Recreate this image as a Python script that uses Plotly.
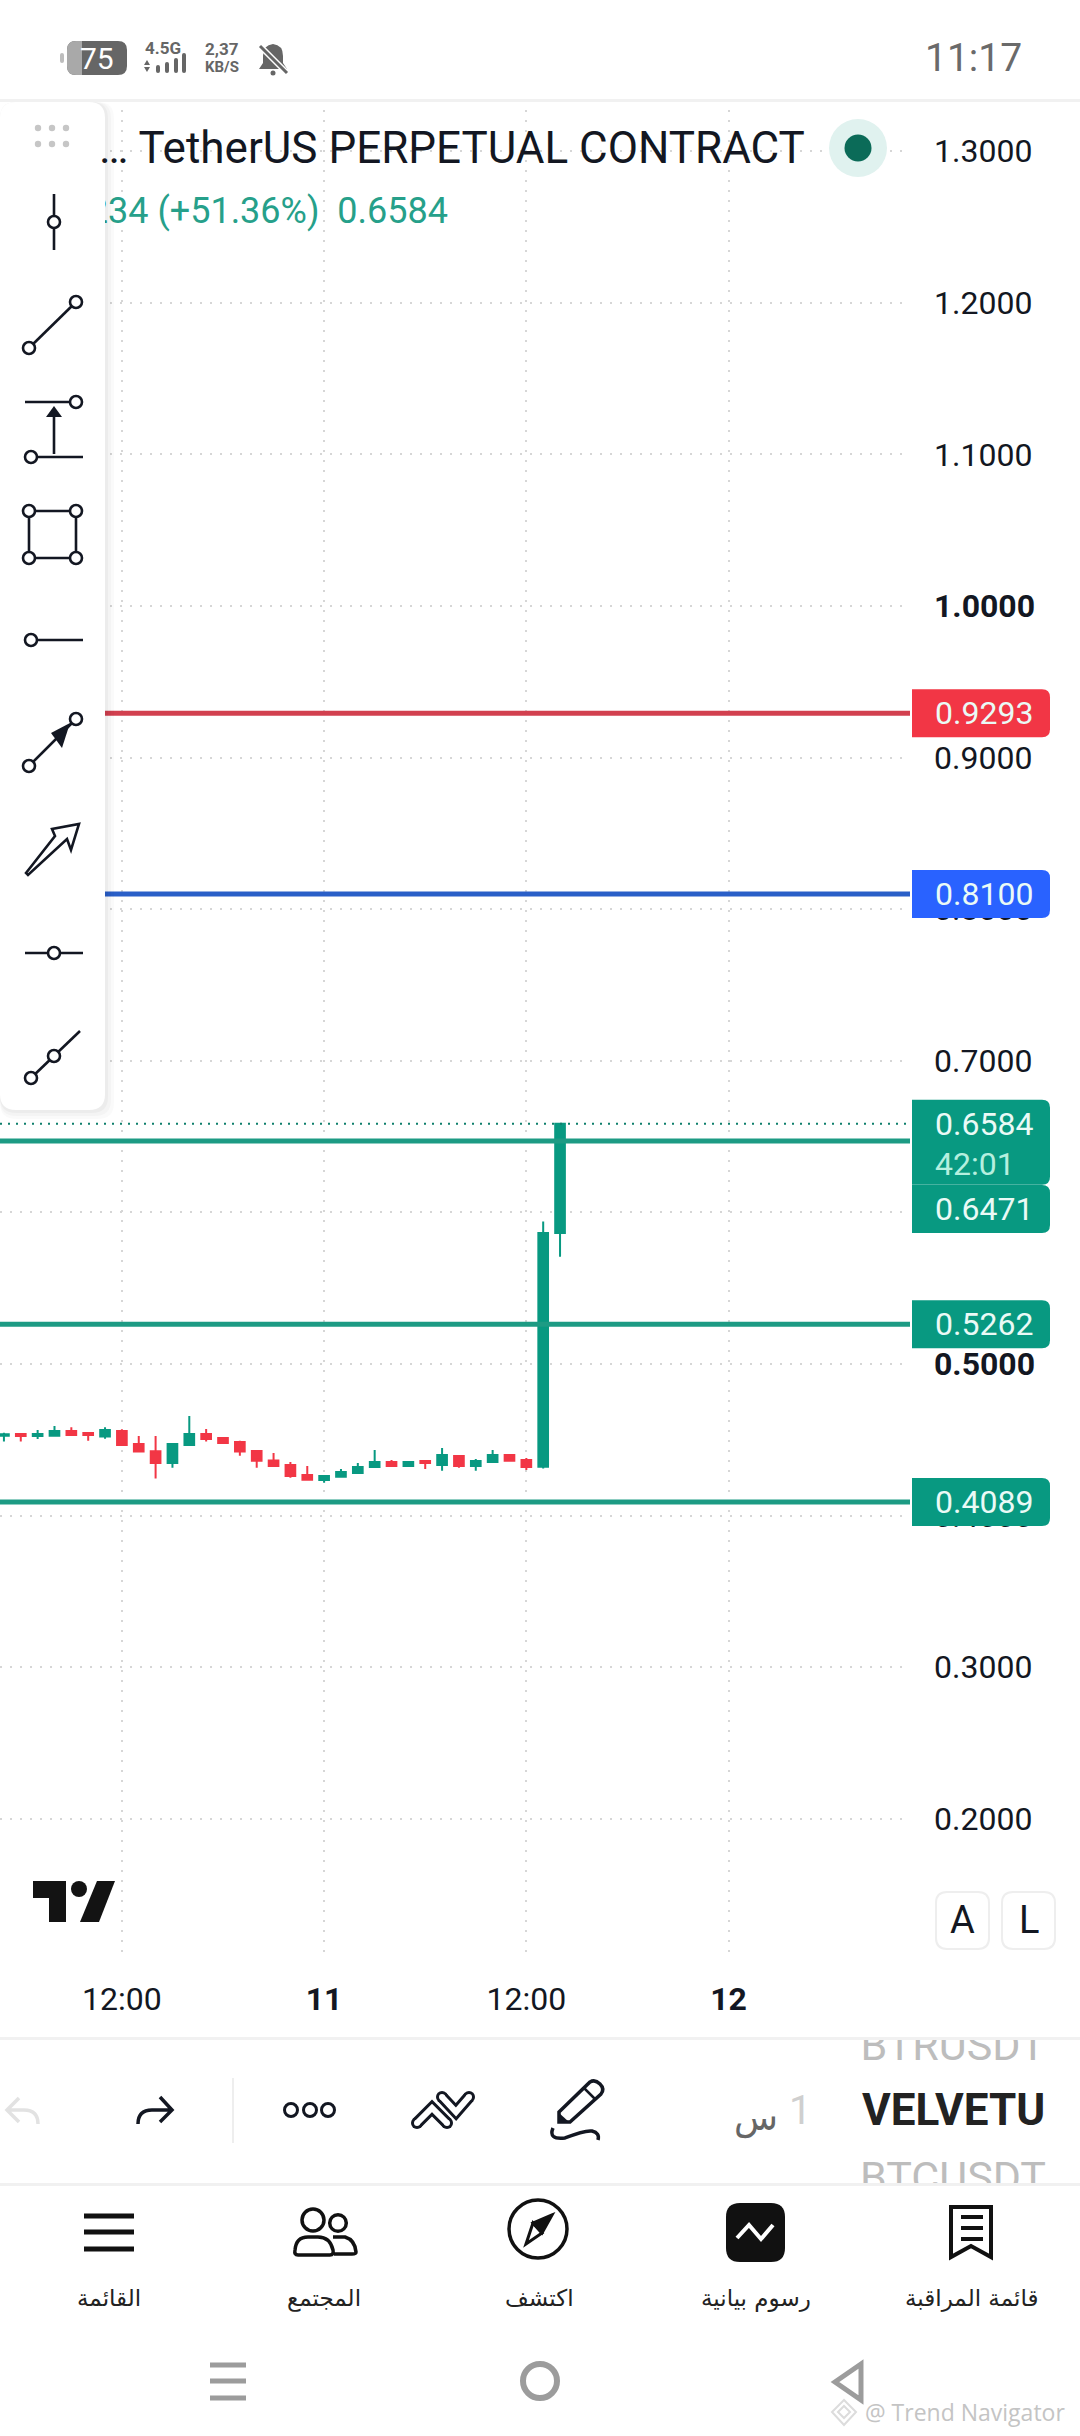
import pandas as pd
import plotly.graph_objects as go

# ---------- data ----------
times = pd.date_range("2025-06-10 05:00", periods=34, freq="h")
opens = [.4527,.4538,.4525,.4527,.4558,.4545,.4521,.4558,.4472,.4424,.4347,.4466,.4538,.4512,.4485,.4426,.4364,.4334,.4268,
         .4235,.4257,.4281,.4320,.4354,.4327,.4360,.4334,.4393,.4327,.4354,.4400,.4367,.4323,.5864]
highs = [.4547,.4538,.4565,.4591,.4582,.4545,.4582,.4569,.4525,.4525,.4479,.4657,.4571,.4516,.4494,.4426,.4413,.4354,.4327,
         .4268,.4307,.4347,.4433,.4367,.4354,.4367,.4446,.4400,.4373,.4433,.4400,.4380,.5940,.6584]
lows = [.4488,.4488,.4505,.4527,.4532,.4494,.4507,.4466,.4422,.4244,.4316,.4466,.4488,.4474,.4395,.4316,.4323,.4250,.4237,
        .4217,.4257,.4277,.4320,.4320,.4323,.4307,.4296,.4316,.4296,.4354,.4356,.4301,.4310,.5708]
closes = [.4536,.4525,.4538,.4558,.4532,.4532,.4565,.4466,.4422,.4347,.4472,.4538,.4505,.4479,.4422,.4362,.4327,.4261,.4237,
          .4261,.4288,.4320,.4354,.4327,.4354,.4347,.4400,.4327,.4360,.4400,.4362,.4320,.5864,.6584]

y_ticks = [1.3, 1.2, 1.1, 1.0, 0.9, 0.8, 0.7, 0.6, 0.5, 0.4, 0.3, 0.2]
y_labels = ["1.3000", "1.2000", "1.1000", "<b>1.0000</b>", "0.9000", "0.8000", "0.7000", "0.6000",
            "<b>0.5000</b>", "0.4000", "0.3000", "0.2000"]
x_ticks = ["2025-06-10 12:00", "2025-06-11 00:00", "2025-06-11 12:00", "2025-06-12 00:00"]
x_labels = ["12:00", "<b>11</b>", "12:00", "<b>12</b>"]

level_red = 0.9293
level_blue = 0.8100
levels_green = [0.6471, 0.5262, 0.4089]
last_price = 0.6584

W, H = 1080, 2436
GREEN, RED, LINE_G = "#089981", "#f23645", "#1d9b84"
INK = "#131722"
FONT = "Roboto"

S, A = [], []
def px(x): return x / W
def py(y): return 1 - y / H

def P(s):
    out, isx = [], True
    for t in s.split():
        if t.isalpha():
            out.append(t); isx = True
        else:
            out.append(f"{px(float(t)):.6f}" if isx else f"{py(float(t)):.6f}")
            isx = not isx
    return " ".join(out)

def path(s, color=INK, w=3, fill=None):
    S.append(dict(type="path", path=P(s), xref="paper", yref="paper", layer="above",
                  line=dict(color=color, width=w), fillcolor=fill or "rgba(0,0,0,0)"))

def solid(s, fill):
    S.append(dict(type="path", path=P(s), xref="paper", yref="paper", layer="above",
                  line=dict(width=0), fillcolor=fill))

def circ(cx, cy, rx, ry=None, fill="#ffffff", color=INK, w=3):
    ry = rx if ry is None else ry
    S.append(dict(type="circle", x0=px(cx-rx), x1=px(cx+rx), y0=py(cy+ry), y1=py(cy-ry), xref="paper", yref="paper",
                  layer="above", fillcolor=fill, line=dict(color=color, width=w)))

def rrect(x0, y0, x1, y1, r, fill=None, color=None, w=0):
    s = (f"M {x0+r} {y0} L {x1-r} {y0} Q {x1} {y0} {x1} {y0+r} L {x1} {y1-r} Q {x1} {y1} {x1-r} {y1} "
         f"L {x0+r} {y1} Q {x0} {y1} {x0} {y1-r} L {x0} {y0+r} Q {x0} {y0} {x0+r} {y0} Z")
    S.append(dict(type="path", path=P(s), xref="paper", yref="paper", layer="above",
                  line=dict(color=color or "rgba(0,0,0,0)", width=w), fillcolor=fill or "rgba(0,0,0,0)"))

def text(x, y, s, size=32, color=INK, anchor="left", family=FONT):
    A.append(dict(x=px(x), y=py(y), xref="paper", yref="paper", text=s, showarrow=False, xanchor=anchor,
                  yanchor="middle", font=dict(family=family, size=size, color=color), borderpad=0))

def badge(value, label, fill, offset=0, up=24, down=24, label_color="#eafaf6"):
    w = 138; r = 8
    t, b = offset + up, offset - down
    s = f"M 0 {t} L {w-r} {t} Q {w} {t} {w} {t-r} L {w} {b+r} Q {w} {b} {w-r} {b} L 0 {b} Z"
    S.append(dict(type="path", xref="paper", yref="y", xsizemode="pixel", ysizemode="pixel",
                  xanchor=912/W, yanchor=value, path=s, layer="above", line=dict(width=0), fillcolor=fill))
    A.append(dict(x=933/W, y=value, xref="paper", yref="y", yshift=offset, text=label, showarrow=False, xanchor="left",
                  yanchor="middle", font=dict(family=FONT, size=32, color=label_color)))

# ---------- price levels ----------
def level(v, color):
    S.append(dict(type="line", xref="paper", yref="y", x0=0, x1=910/W, y0=v, y1=v, layer="above",
                  line=dict(color=color, width=5)))

S.append(dict(type="line", xref="paper", yref="y", x0=0, x1=910/W, y0=last_price, y1=last_price, layer="above",
              line=dict(color="#0f7f6c", width=2, dash="2px,6px")))
level(level_red, "#d2404f")
level(level_blue, "#2a5fc8")
for v in levels_green:
    level(v, LINE_G)

badge(level_red, f"{level_red:.4f}", RED)
badge(level_blue, f"{level_blue:.4f}", "#2962ff")
badge(last_price, f"{last_price:.4f}", GREEN, up=24, down=61)
A.append(dict(x=933/W, y=last_price, xref="paper", yref="y", yshift=-40, text="42:01", showarrow=False, xanchor="left",
              yanchor="middle", font=dict(family=FONT, size=32, color="#b5efdf")))
badge(levels_green[0], f"{levels_green[0]:.4f}", GREEN, offset=-68)
badge(levels_green[1], f"{levels_green[1]:.4f}", GREEN)
badge(levels_green[2], f"{levels_green[2]:.4f}", GREEN)

# ---------- status bar ----------
solid("M 0 0 L 1080 0 L 1080 99 L 0 99 Z", "#ffffff")
solid("M 0 99 L 1080 99 L 1080 102 L 0 102 Z", "#f1f1f1")
G1 = "#666666"
rrect(60, 53, 64, 63, 2, fill="#bdbdbd")
rrect(67, 41, 127, 75, 9, fill=G1)
solid("M 82 41 L 76 41 Q 67 41 67 50 L 67 66 Q 67 75 76 75 L 82 75 Z", "#a9a9a9")
text(97, 58, "75", 30, "#ffffff", "center")
text(163, 48, "<b>4.5G</b>", 17, G1, "center")
solid("M 147 60 L 150 65 L 144 65 Z", G1)
solid("M 147 72 L 150 67 L 144 67 Z", G1)
for bx, top in [(158, 65), (167, 62), (176, 58), (184, 53)]:
    rrect(bx-2, top, bx+2, 73, 2, fill=G1)
text(222, 49, "<b>2,37</b>", 17, G1, "center")
text(222, 67, "<b>KB/S</b>", 15, G1, "center")
solid("M 273 44 Q 283 45 283 56 L 283 63 L 287 69 L 259 69 L 263 63 L 263 56 Q 263 45 273 44 Z", G1)
circ(273, 73, 2.5, fill=G1, w=0)
path("M 259 45 L 287 73", "#ffffff", 6)
path("M 260 46 L 287 73", G1, 3)
text(973, 58, "11:17", 39, "#6a6a6a", "center")

# ---------- chart heading and dot ----------
circ(858, 148, 29, fill="#e0f2ef", w=0)
circ(858, 148, 13.5, fill="#0b6b58", w=0)
text(806, 148, "… TetherUS PERPETUAL CONTRACT", 44, "#131722", "right")

# ---------- drawing toolbar ----------
for a, off in [(0.018, 9), (0.022, 6), (0.03, 3)]:
    rrect(0, 102, 105+off, 1110+off, 16, fill=f"rgba(0,0,0,{a})")
rrect(0, 102, 105, 1110, 16, fill="#ffffff")
for dy in (128, 144):
    for dx in (38, 52, 66):
        circ(dx, dy, 3.2, fill="#c6c6c6", w=0)
LW = 2.6
def knob(x, y): circ(x, y, 6, fill="#ffffff", color=INK, w=2.6)
path("M 54 194 L 54 250", INK, LW); knob(54, 222)
path("M 29 348 L 76 302", INK, LW); knob(29, 348); knob(76, 302)
path("M 25 402 L 76 402", INK, LW); knob(76, 402)
path("M 31 457 L 83 457", INK, LW); knob(31, 457)
path("M 54 454 L 54 416", INK, LW); solid("M 46 417 L 62 417 L 54 406 Z", INK)
path("M 29 511 L 76 511 L 76 558 L 29 558 Z", INK, LW)
for cx, cy in [(29, 511), (76, 511), (29, 558), (76, 558)]:
    knob(cx, cy)
path("M 31 640 L 83 640", INK, LW); knob(31, 640)
path("M 29 766 L 76 719", INK, LW); solid("M 51 733 L 70 723 L 62 748 Z", INK); knob(29, 766); knob(76, 719)
path("M 26 873 L 55 836 L 52 829 L 79 824 L 71 850 L 67 839 L 28 875 Z", INK, LW, "#ffffff")
path("M 25 953 L 83 953", INK, LW); knob(54, 953)
path("M 31 1078 L 80 1031", INK, LW); knob(31, 1078); knob(54, 1056)

# ---------- TradingView logo ----------
solid("M 33 1881 L 66 1881 L 66 1922 L 49 1922 L 49 1898 L 33 1898 Z", "#131313")
circ(79, 1889, 8, fill="#131313", w=0)
solid("M 97 1881 L 115 1881 L 99 1922 L 80 1922 Z", "#131313")

# ---------- A / L buttons ----------
rrect(936, 1892, 989, 1949, 11, fill="#ffffff", color="#eeeeee", w=2)
rrect(1002, 1892, 1055, 1949, 11, fill="#ffffff", color="#eeeeee", w=2)
text(962.5, 1920, "A", 38, INK, "center")
text(1029, 1920, "L", 38, INK, "center")

# ---------- separators ----------
solid("M 0 2037 L 1080 2037 L 1080 2040 L 0 2040 Z", "#f1f1f1")
solid("M 0 2183 L 1080 2183 L 1080 2186 L 0 2186 Z", "#f1f1f1")

# ---------- chart tool row ----------
path("M 38 2124 Q 38 2110 24 2110 L 7 2110 M 19 2098 L 7 2110 L 19 2122", "#e2e2e2", 3.5)
path("M 138 2124 Q 138 2110 152 2110 L 172 2110 M 160 2097 L 172 2110 L 160 2122", INK, 3.5)
solid("M 232 2078 L 234 2078 L 234 2143 L 232 2143 Z", "#eeeeee")
for cx in (291, 310, 328):
    circ(cx, 2110, 6.5, fill="#ffffff", color=INK, w=3)
def tube(pts):
    a = "M " + " L ".join(f"{x} {y}" for x, y in pts)
    for (x, y) in (pts[0], pts[-1]):
        circ(x, y, 6, fill=INK, w=0)
    path(a, INK, 12)
    for (x, y) in (pts[0], pts[-1]):
        circ(x, y, 3, fill="#ffffff", w=0)
    path(a, "#ffffff", 6)
tube([(417, 2123), (432, 2108), (447, 2123)])
tube([(442, 2097), (456, 2112), (469, 2097)])
path("M 559 2112 L 590 2082 Q 595 2079 600 2084 Q 605 2089 601 2094 L 570 2122 L 559 2122 Z", INK, 3.5, "#ffffff")
solid("M 558 2122 L 558 2112 L 569 2122 Z", INK)
path("M 584 2088 L 596 2100", INK, 2.5)
path("M 553 2128 Q 548 2140 565 2138 Q 585 2130 592 2131 Q 600 2133 598 2140", INK, 3.5)
text(800, 2110, "1", 40, "#cfcfcf", "center")
text(756, 2118, "س", 36, "#666666", "center", "DejaVu Sans")
text(953, 2110, "<b>VELVETU</b>", 44, "#222222", "center")

# ---------- bottom navigation ----------
for by in (2216, 2232, 2249):
    solid(f"M 84 {by-2.5} L 134 {by-2.5} L 134 {by+2.5} L 84 {by+2.5} Z", "#111111")
circ(313, 2220, 11, fill="#ffffff", color="#111111", w=3.5)
circ(338, 2223, 8.3, fill="#ffffff", color="#111111", w=3.5)
path("M 333 2237 L 345 2237 Q 355 2240 356 2252 Q 356 2254 352 2254 L 334 2254", "#111111", 3.5)
path("M 298 2255 L 330 2255 Q 334 2255 333 2250 Q 330 2237 318 2237 L 308 2237 Q 296 2237 295 2250 Q 294 2255 298 2255 Z",
     "#111111", 3.5, "#ffffff")
circ(538, 2229, 29, fill="#ffffff", color="#111111", w=3.5)
path("M 526 2244 L 533 2223 L 542 2233 Z", "#111111", 3, "#ffffff")
path("M 552 2215 L 533 2223 L 542 2233 Z", "#111111", 3, "#111111")
rrect(726, 2203, 785, 2262, 14, fill="#111111")
path("M 737 2238 L 749 2225 L 761 2239 L 773 2225", "#ffffff", 4)
path("M 951 2207 L 991 2207 L 991 2257 L 971 2246 L 951 2257 Z", "#111111", 4)
for by in (2217, 2228, 2239):
    path(f"M 961 {by} L 983 {by}", "#111111", 4)
AR = "DejaVu Sans"
text(109, 2298, "القائمة", 23, "#222222", "center", AR)
text(324, 2298, "المجتمع", 23, "#222222", "center", AR)
text(539, 2298, "اكتشف", 23, "#222222", "center", AR)
text(756, 2298, "رسوم بيانية", 23, "#222222", "center", AR)
text(971, 2298, "قائمة المراقبة", 23, "#222222", "center", AR)

# ---------- system navigation ----------
G2 = "#9c9c9c"
for by in (2365, 2381, 2398):
    solid(f"M 210 {by-2.5} L 246 {by-2.5} L 246 {by+2.5} L 210 {by+2.5} Z", G2)
circ(540, 2381, 17, 17, fill="#ffffff", color=G2, w=6)
path("M 861 2364 L 835 2382 L 861 2400 Z", G2, 5)
path("M 844 2400 L 832 2412 L 844 2425 L 856 2412 Z", "#dcdcdc", 2)
path("M 838 2412 L 844 2406 L 850 2412 L 844 2418 Z", "#dcdcdc", 2)
text(864, 2412, "@ Trend Navigator", 23, "#c4c4c4", "left", "Open Sans")

# ---------- figure ----------
fig = go.Figure()
fig.add_trace(go.Candlestick(
    x=times, open=opens, high=highs, low=lows, close=closes, whiskerwidth=0,
    increasing=dict(line=dict(color=GREEN, width=2), fillcolor=GREEN),
    decreasing=dict(line=dict(color=RED, width=2), fillcolor=RED),
    hoverinfo="skip", showlegend=False, xaxis="x", yaxis="y",
))
# heading line sits below the toolbar panel, so it lives on a full-page overlay
fig.add_trace(go.Scatter(x=[448], y=[214], mode="text", text=["+0.2234 (+51.36%)\u00a0\u00a00.6584"],
                         textposition="middle left", textfont=dict(family=FONT, size=36, color="#26a08a"),
                         cliponaxis=False, showlegend=False, hoverinfo="skip", xaxis="x2", yaxis="y2"))
# symbol wheel: neighbours are clipped by the row's edges
fig.add_trace(go.Scatter(x=[953, 953], y=[2049, 2181], mode="text", text=["BTRUSDT", "BTCUSDT"],
                         textposition="middle center", textfont=dict(family=FONT, size=43, color="#bdbdbd"),
                         cliponaxis=True, showlegend=False, hoverinfo="skip", xaxis="x3", yaxis="y3"))

y_of = lambda py_: 0.5 + (1364 - py_) / 1516
fig.update_layout(
    width=W, height=H, autosize=False, margin=dict(l=0, r=0, t=0, b=0),
    paper_bgcolor="#ffffff", plot_bgcolor="rgba(0,0,0,0)", showlegend=False, boxgap=0.18,
    font=dict(family=FONT, color=INK),
    xaxis=dict(domain=[0, 910/W], type="date",
               range=["2025-06-10 04:46:00", "2025-06-12 10:46:00"],
               tickvals=x_ticks, ticktext=x_labels, tickangle=0,
               tickfont=dict(family=FONT, size=32, color=INK), ticks="", ticklabelstandoff=17,
               showgrid=True, gridcolor="#d6d6d6", griddash="2px,8px", gridwidth=2,
               zeroline=False, showline=False, rangeslider=dict(visible=False), fixedrange=True, anchor="y"),
    yaxis=dict(domain=[py(1960), py(100)], side="right", anchor="x", range=[y_of(1960), y_of(100)],
               tickvals=y_ticks, ticktext=y_labels, tickfont=dict(family=FONT, size=32, color=INK),
               ticks="", ticklabelstandoff=23,
               showgrid=True, gridcolor="#d6d6d6", griddash="2px,8px", gridwidth=2,
               zeroline=False, showline=False, fixedrange=True),
    xaxis2=dict(domain=[0, 1], range=[0, W], visible=False, fixedrange=True, anchor="y2"),
    yaxis2=dict(domain=[0, 1], range=[H, 0], visible=False, fixedrange=True, anchor="x2"),
    xaxis3=dict(domain=[0, 1], range=[0, W], visible=False, fixedrange=True, anchor="y3"),
    yaxis3=dict(domain=[py(2183), py(2040)], range=[2183, 2040], visible=False, fixedrange=True, anchor="x3"),
    shapes=S, annotations=A,
)
fig.write_html("out.html", config=dict(displayModeBar=False),
               post_script="document.body.style.margin='0';document.documentElement.style.overflow='hidden';")
